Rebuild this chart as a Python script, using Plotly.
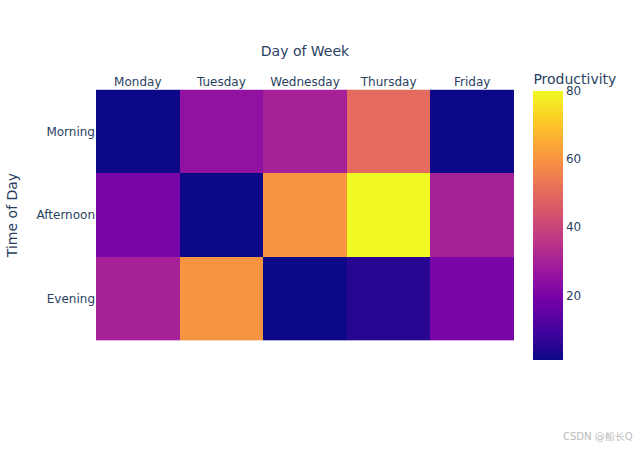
import plotly.express as px

days = ["Monday", "Tuesday", "Wednesday", "Thursday", "Friday"]
times = ["Morning", "Afternoon", "Evening"]
morning = [1, 25, 30, 50, 1]
afternoon = [20, 1, 60, 80, 30]
evening = [30, 60, 1, 5, 20]

fig = px.imshow([morning, afternoon, evening], x=days, y=times,
                labels=dict(x="Day of Week", y="Time of Day", color="Productivity"))
fig.update_xaxes(side="top")
fig.update_layout(font=dict(family="DejaVu Sans"))
fig.add_annotation(text="CSDN @船长Q", xref="paper", yref="paper", x=1.29, y=-0.215,
                   xanchor="right", yanchor="middle",
                   showarrow=False, font=dict(size=10, color="#bbbbbb"))
fig.write_html("out.html")
